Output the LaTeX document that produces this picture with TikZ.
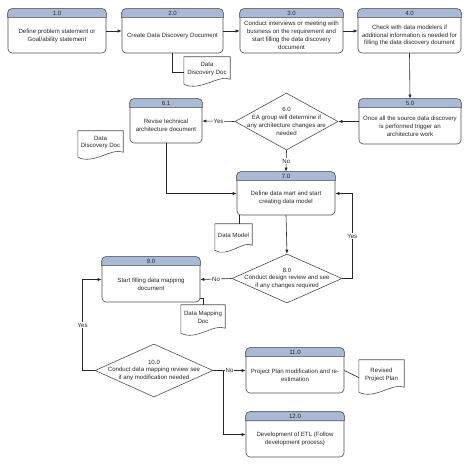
\documentclass[tikz,border=0pt]{standalone}
\usepackage{fontspec}
\setmainfont{Liberation Sans}
\usetikzlibrary{arrows.meta,shapes.geometric,calc}
\definecolor{hdrblue}{RGB}{168,186,214}
\definecolor{edge}{RGB}{80,80,80}
\definecolor{ink}{RGB}{40,40,40}
\tikzset{
  pboxst/.style={draw=edge, line width=0.6pt, fill=white, rounded corners=4pt, inner sep=0pt},
  hdrst/.style={draw=edge, line width=0.6pt, fill=hdrblue},
  txt/.style={align=center, text=ink, font=\fontsize{6.1}{7.9}\selectfont, inner sep=0pt},
  diast/.style={draw=edge, line width=0.6pt, fill=white, shape=diamond, inner sep=0pt},
  docbox/.style={draw=none, inner sep=0pt},
  docline/.style={draw=edge, line width=0.6pt, fill=white},
  conn/.style={draw=ink, line width=0.6pt},
  arr/.style={conn, -{Latex[length=4pt,width=3.2pt]}},
  lbl/.style={txt, fill=white, inner sep=0.6pt}
}
% name, cx, cy, w, h, number, text
\newcommand\pbox[7]{%
  \node[pboxst, minimum width=#4pt, minimum height=#5pt] (#1) at (#2,#3) {};
  \filldraw[hdrst] ([yshift=-9pt]#1.north west) -- ([yshift=-4pt]#1.north west)
     arc[start angle=180,end angle=90,radius=4pt] -- ([xshift=-4pt]#1.north east)
     arc[start angle=90,end angle=0,radius=4pt] -- ([yshift=-9pt]#1.north east) -- cycle;
  \node[txt] (#1h) at ([yshift=-4.6pt]#1.north) {#6};
  \node[txt] (#1t) at ([yshift=-4.5pt]#1.center) {#7};
}
% name, cx, cy, w, h, text
\newcommand\docn[6]{%
  \node[docbox, minimum width=#4pt, minimum height=#5pt] (#1) at (#2,#3) {};
  \filldraw[docline] ([yshift=3pt]#1.south west) -- (#1.north west) -- (#1.north east)
     -- ([yshift=8pt]#1.south east)
     .. controls ([xshift={-0.25*#4pt}, yshift=13pt]#1.south east)
     and ([xshift={0.35*#4pt}, yshift=-5pt]#1.south west) .. ([yshift=3pt]#1.south west) -- cycle;
  \node[txt] (#1t) at ([yshift=3pt]#1.center) {#6};
}
\begin{document}
\begin{tikzpicture}[x=1pt,y=-1pt]
\useasboundingbox (0,0) rectangle (474,470);
\fill[white] (0,0) rectangle (474,470);

\pbox{b1}{57}{31}{98}{44}{1.0}{Define problem statement or\\Goal/ability statement}
\pbox{b2}{172.5}{31}{101}{44}{2.0}{Create Data Discovery Document}
\pbox{b3}{291.5}{31}{103}{44}{3.0}{Conduct interviews or meeting with\\business on the requirement and\\start filling the data discovery\\document}
\pbox{b4}{409.5}{31}{103}{44}{4.0}{Check with data modelers if\\additional information is needed for\\filling the data discovery doument}
\pbox{b5}{410}{121.5}{102}{45}{5.0}{Once all the source data discovery\\is performed trigger an\\architecture work}
\pbox{b61}{166}{121}{72}{44}{6.1}{Revise technical\\architecture document}
\pbox{b7}{286}{193.5}{98}{43}{7.0}{Define data mart and start\\creating data model}
\pbox{b9}{151}{279.5}{98}{45}{9.0}{Start filling data mapping\\document}
\pbox{b11}{295}{370.5}{98}{45}{11.0}{Project Plan modification and re-\\estimation}
\pbox{b12}{295}{434.5}{98}{45}{12.0}{Development of ETL (Follow\\development process)}

\node[diast, minimum width=103pt, minimum height=57pt] (d6) at (286.5,121.5) {};
\node[txt] (d6t) at (d6) {6.0\\EA group will determine if\\any architecture changes are\\needed};
\node[diast, minimum width=110pt, minimum height=49pt] (d8) at (287,278.5) {};
\node[txt] (d8t) at (d8) {8.0\\Conduct design review and see\\if any changes required};
\node[diast, minimum width=118pt, minimum height=53pt] (d10) at (154,370.5) {};
\node[txt] (d10t) at (d10) {10.0\\Conduct data mapping review see\\if any modification needed};

\docn{ddd1}{207}{72}{46}{30}{Data\\Discovery Doc}
\docn{ddd2}{100.5}{145.5}{45}{29}{Data\\Discovery Doc}
\docn{dm}{233.5}{238.5}{37}{29}{Data Model}
\docn{dmd}{203}{320.5}{44}{31}{Data Mapping\\Doc}
\docn{rpp}{381.5}{377.5}{45}{35}{Revised\\Project Plan}

% main flow
\draw[arr] (b1.east) -- (b2.west);
\draw[arr] (b2.east) -- (b3.west);
\draw[arr] (b3.east) -- (b4.west);
\draw[arr] (b4.south) -- (b5.north);
\draw[arr] (b5.west) -- (d6.east);
\draw[arr] (d6.west) -- node[lbl] (y6) {Yes} (b61.east);
\draw[arr] (d6.south) -- node[lbl] (n6) {No} (b7.north);
\draw[arr] (b61.south) |- (b7.west);
\draw[arr] (b7.south) -- (d8.north);
\draw[arr] (d8.east) -- ++(10,0) |- node[lbl, pos=0.25] (y8) {Yes} (b7.east);
\draw[arr] (d8.west) -- node[lbl] (n8) {No} (b9.east);
\draw[arr] (d10.west) -- ++(-12,0) |- node[lbl, pos=0.25] (y10) {Yes} (b9.west);
\draw[arr] (d10.east) -- node[lbl] (n10) {No} (b11.west);
\coordinate (j10) at ($(d10.east)!0.3!(b11.west)$);
\draw[arr] (j10) |- (b12.west);

% document links
\draw[conn] (b2.south) |- (ddd1.west);
\draw[conn] ([xshift=3pt]b7.south west) -- ([xshift=3pt]b7.south west |- dm.north);
\draw[conn] ([yshift=4pt]b9.south east) -| (dmd.north);
\draw[conn] (b11.east) -- (rpp.west);
\end{tikzpicture}
\end{document}
